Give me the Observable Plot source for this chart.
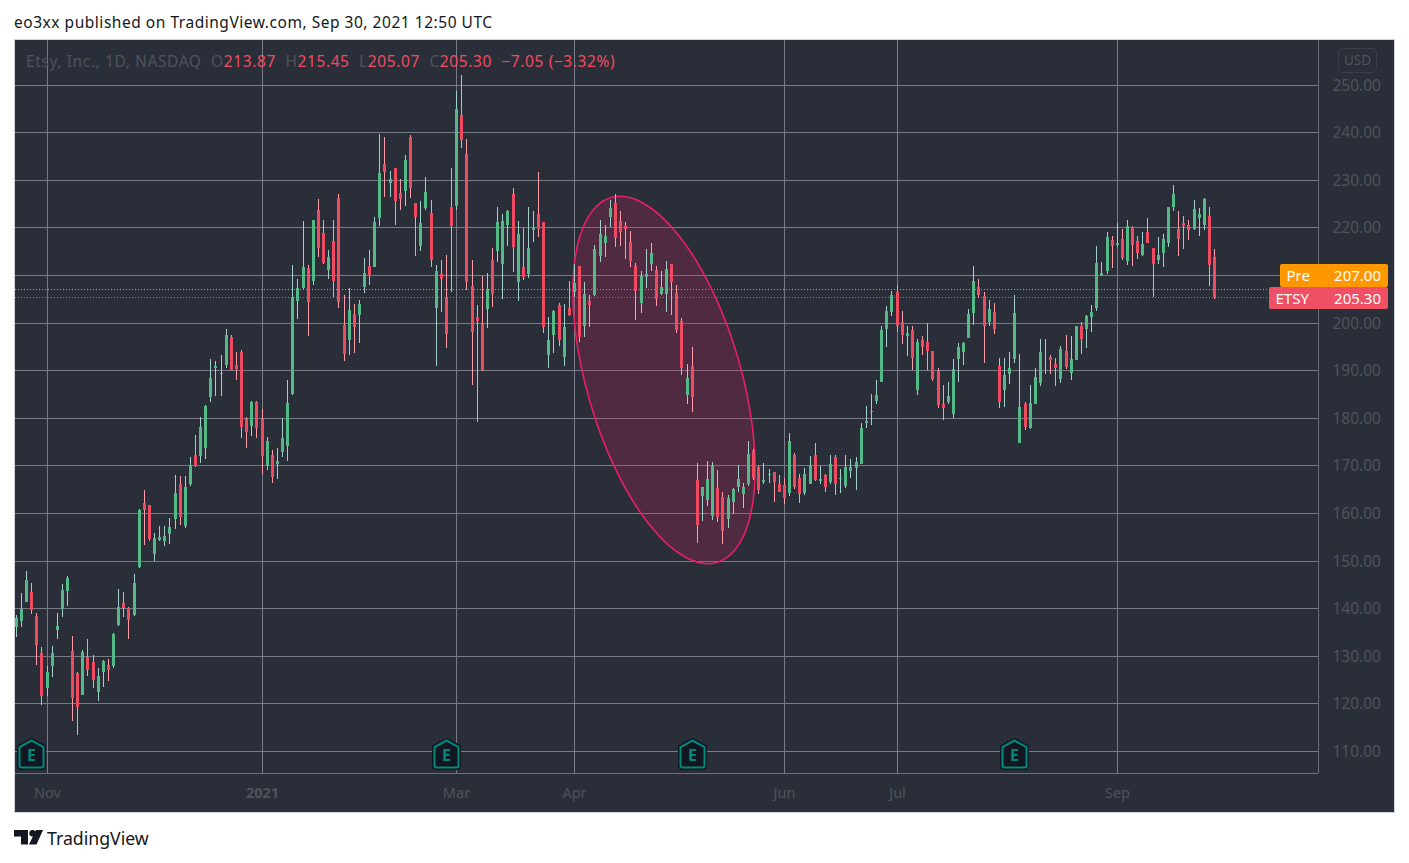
<!DOCTYPE html>
<html>
<head>
<meta charset="utf-8">
<script src="https://cdn.jsdelivr.net/npm/d3@7"></script>
<script src="https://cdn.jsdelivr.net/npm/@observablehq/plot@0.6"></script>
<style>
  html, body { margin: 0; padding: 0; background: #fff; width: 1409px; height: 863px; overflow: hidden; }
  body { position: relative; font-family: "Noto Sans", sans-serif; }
  #title { position: absolute; left: 14px; top: 11px; font-size: 15.5px; line-height: 22px; color: #131722; white-space: nowrap; letter-spacing: 0.53px; }
  #chart { position: absolute; left: 14px; top: 39px; width: 1381px; height: 774px; }
  #chart svg { display: block; outline: 1px solid #d1d4dc; outline-offset: -1px; }
  #legend { position: absolute; left: 26px; top: 50px; font-size: 15.5px; line-height: 22px; white-space: nowrap; color: #50535b; letter-spacing: 0.6px; }
  #legend b { font-weight: 400; color: #f04c60; }
  #legend span { margin-left: 9.5px; }
  #usd { position: absolute; left: 1338px; top: 48px; width: 37px; height: 23px; border: 1px solid #3c3f4a; border-radius: 5px; text-align: center; font-size: 13.5px; line-height: 23px; color: #50535b; }
  .tag { position: absolute; height: 22.5px; line-height: 22.5px; border-radius: 2px; color: #fff; font-size: 15px; box-sizing: border-box; padding: 0 7px; display: flex; justify-content: space-between; right: 21px; }
  #tagPre { top: 264px; width: 108.5px; background: #ff9800; }
  #tagEtsy { top: 286.5px; width: 119.5px; background: #ef5064; }
  #foot { position: absolute; left: 47px; top: 826px; font-size: 17.7px; line-height: 24px; color: #131722; }
  #logo { position: absolute; left: 14px; top: 830px; }
</style>
</head>
<body>
<div id="title">eo3xx published on TradingView.com, Sep 30, 2021 12:50 UTC</div>
<div id="chart"></div>
<div id="legend">Etsy, Inc., 1D, NASDAQ<span>O<b>213.87</b></span><span>H<b>215.45</b></span><span>L<b>205.07</b></span><span>C<b>205.30</b></span><span><b>−7.05 (−3.32%)</b></span></div>
<div id="usd">USD</div>
<div class="tag" id="tagPre"><span>Pre</span><span>207.00</span></div>
<div class="tag" id="tagEtsy"><span>ETSY</span><span>205.30</span></div>
<svg id="logo" width="29" height="15" viewBox="0 0 29 15"><path fill="#131722" d="M0 0H14V14.5H7V6.5H0Z"/><circle fill="#131722" cx="18.5" cy="3.2" r="3.2"/><path fill="#131722" d="M22 0H29L22.5 14.5H15Z"/></svg>
<div id="foot">TradingView</div>
<script>
const open = [
136.0,137.3,141.3,143.4,138.4,130.6,123.2,127.9,135.4,139.8,
143.6,131.0,126.4,121.8,129.8,128.7,122.4,126.6,128.1,127.9,
136.5,141.1,140.0,138.6,148.6,162.1,161.7,151.4,154.3,154.1,
155.6,158.7,166.1,157.3,166.0,172.3,171.9,173.6,184.3,190.4,
189.2,191.0,196.9,191.2,193.8,179.7,178.2,183.3,179.7,170.0,
172.1,170.3,172.8,174.0,185.0,204.5,207.2,211.4,208.7,223.6,
218.8,211.0,217.1,226.1,199.5,196.3,201.8,201.6,207.4,211.8,
211.6,221.9,233.3,229.3,232.4,227.2,227.6,239.1,225.1,216.1,
224.0,223.0,203.0,210.2,205.1,224.2,224.5,243.6,235.4,207.6,
201.1,199.7,202.8,213.1,215.0,212.3,220.5,227.0,208.5,211.6,
210.2,219.4,222.8,221.1,193.2,197.4,203.7,192.7,203.0,206.4,
211.9,199.3,204.5,205.8,214.0,216.7,222.2,225.1,221.3,220.3,
216.9,211.9,204.1,209.6,212.3,211.0,206.0,206.0,212.3,206.2,
200.3,184.8,190.9,166.9,163.6,162.7,159.4,165.3,163.4,158.7,
162.3,165.5,164.0,166.1,173.0,169.7,166.5,168.0,168.6,166.1,
165.9,164.3,172.1,167.4,164.3,166.2,172.3,166.8,167.9,166.6,
171.8,167.2,165.7,168.9,169.5,170.4,179.0,181.3,183.6,187.6,
198.7,202.3,206.5,200.2,197.3,198.5,185.9,196.4,196.0,194.1,
189.9,183.0,183.4,180.9,192.4,193.9,196.8,202.1,207.5,205.7,
200.2,202.3,190.8,185.9,189.3,192.4,174.8,183.0,177.8,183.0,
187.4,193.1,192.7,191.4,188.1,194.0,189.5,192.1,199.4,198.6,
201.1,203.0,209.9,210.8,217.3,216.4,217.5,212.9,220.1,217.1,
214.3,219.1,215.6,213.1,214.7,216.8,224.2,219.6,221.0,220.6,
219.6,221.9,220.6,222.5,213.87];
const high = [
138.6,143.2,147.8,145.3,139.0,131.8,127.9,132.1,139.0,145.1,
146.8,134.2,126.6,131.2,133.5,130.2,127.4,129.1,129.3,134.8,
144.0,143.4,140.2,147.2,160.8,164.8,161.7,155.8,157.3,157.3,
158.9,168.0,167.8,167.8,171.7,176.5,180.1,182.8,192.3,191.9,
193.1,198.6,197.5,193.8,194.2,180.1,183.5,183.5,181.8,175.9,
173.2,173.6,179.9,187.9,212.1,209.1,221.3,212.1,221.5,225.9,
221.5,215.2,221.5,227.0,205.8,207.2,203.9,204.7,213.5,215.2,
222.1,239.6,239.1,231.8,232.4,230.1,235.2,239.4,225.1,225.5,
230.5,225.7,212.1,213.1,214.2,232.4,248.6,252.0,238.5,213.1,
203.7,209.7,210.4,215.6,224.2,222.8,223.6,228.2,221.3,219.8,
224.2,223.4,231.6,221.1,201.1,202.6,204.1,203.9,208.7,212.3,
211.9,208.5,205.8,216.3,221.5,220.5,225.7,227.0,223.4,221.1,
219.2,212.5,210.8,215.5,216.7,211.9,210.8,212.9,212.3,207.9,
201.0,191.3,194.9,170.5,165.5,170.9,170.7,169.0,164.4,163.8,
165.3,170.1,166.3,175.1,173.4,169.9,170.5,169.2,168.6,167.9,
167.4,176.9,172.7,168.3,169.5,171.9,174.8,169.9,168.3,172.2,
172.1,169.3,172.2,171.4,171.8,179.0,182.4,185.1,188.0,199.2,
203.6,206.7,208.0,202.5,199.2,199.2,196.6,197.1,200.0,194.1,
190.5,186.8,187.6,192.4,195.8,196.0,202.9,212.0,209.2,206.5,
204.8,204.2,192.6,192.6,193.9,205.9,193.5,183.4,186.8,190.4,
196.5,196.5,193.1,192.5,195.0,197.5,197.1,199.4,200.2,201.7,
203.8,216.0,212.8,219.1,218.1,221.0,219.6,221.5,220.2,218.1,
219.1,221.9,215.6,217.9,218.7,224.4,229.0,223.4,222.5,221.5,
225.7,224.0,226.1,224.2,215.45];
const low = [
133.9,136.0,141.3,138.8,128.1,119.7,121.6,125.6,133.5,138.1,
140.5,116.3,113.4,121.8,125.8,123.2,120.5,123.4,124.7,127.4,
136.3,138.1,133.5,138.4,148.4,153.3,154.1,149.9,154.1,153.1,
153.5,156.6,157.5,156.8,165.6,169.6,170.5,171.3,183.3,184.5,
184.5,190.4,190.1,187.9,175.7,173.6,176.1,175.7,168.1,169.0,
166.3,167.1,171.7,170.9,184.8,200.7,207.0,197.1,207.9,213.7,
212.3,209.1,205.3,203.0,191.9,193.1,193.6,195.7,206.2,207.9,
211.6,220.2,226.3,226.5,220.5,223.6,224.5,226.1,213.9,215.0,
223.6,211.6,190.8,202.2,194.6,206.4,223.6,236.6,206.8,186.9,
179.1,189.8,198.8,203.2,212.7,204.9,216.1,210.6,204.5,208.9,
209.3,216.9,217.9,197.8,190.4,193.6,195.0,190.8,201.3,205.3,
195.9,197.0,199.1,205.6,212.7,213.8,220.1,215.9,216.1,213.3,
211.7,200.5,202.0,207.3,210.8,203.5,205.8,202.2,201.6,197.8,
189.0,182.9,181.2,153.7,158.3,161.5,158.5,158.1,153.5,156.9,
159.8,164.4,161.1,165.7,167.0,164.0,166.1,166.3,162.3,164.4,
161.8,163.5,165.1,162.2,163.7,166.2,166.8,166.0,164.5,166.0,
163.7,164.3,165.3,167.4,164.9,170.4,177.9,178.6,183.0,187.6,
194.9,201.3,198.1,195.6,192.9,190.1,184.9,193.3,190.1,187.8,
182.1,179.6,183.0,180.0,187.6,191.0,196.8,199.6,205.2,191.6,
199.2,197.7,182.1,182.3,187.2,191.6,174.8,177.5,177.6,183.0,
186.6,189.3,189.3,186.6,187.4,190.2,187.9,192.1,193.5,194.6,
198.0,202.4,209.9,210.3,211.4,215.8,213.1,212.2,212.0,213.3,
213.9,216.8,205.3,212.4,211.6,215.8,223.4,213.9,215.4,217.3,
219.4,218.3,219.4,207.6,205.07];
const close = [
137.9,139.8,145.9,139.6,132.3,121.6,126.6,130.6,136.3,143.8,
146.3,121.1,119.2,130.8,127.0,124.9,125.8,128.9,127.0,134.6,
140.2,140.0,137.5,145.3,160.6,160.6,154.5,154.7,154.9,155.2,
157.1,164.2,159.2,165.5,170.0,169.8,178.0,182.4,188.3,190.8,
189.4,197.5,190.1,190.2,178.0,177.0,183.3,177.8,171.9,175.1,
167.5,170.9,175.7,183.1,205.3,207.2,211.6,204.3,221.5,215.6,
212.5,213.7,208.7,204.3,193.4,202.6,199.0,203.9,210.4,209.9,
221.1,231.4,231.6,230.1,225.5,225.9,234.1,228.2,222.3,220.9,
227.4,213.1,210.8,209.1,197.6,220.2,244.8,238.3,208.5,198.0,
200.3,190.0,207.0,206.0,221.1,221.3,223.4,215.8,218.6,209.5,
215.6,219.8,219.6,199.0,196.3,202.4,196.3,199.0,201.6,208.3,
197.0,206.0,203.7,215.5,218.6,218.2,224.1,217.8,219.0,219.6,
212.9,206.6,209.8,210.2,214.6,205.0,207.5,211.2,208.5,198.4,
190.5,188.4,184.4,157.5,165.5,167.1,169.9,159.2,156.2,163.2,
165.0,167.1,165.5,172.4,167.4,164.8,167.0,168.2,166.5,164.4,
163.2,175.2,165.5,164.1,168.3,170.2,167.0,167.2,165.5,170.4,
166.0,167.4,169.7,169.7,170.8,177.9,179.4,181.5,184.9,198.5,
202.5,205.9,199.4,197.5,197.9,192.6,196.0,194.9,194.1,188.2,
182.8,182.1,184.5,190.3,194.9,195.8,201.9,208.8,205.9,199.4,
202.9,198.7,183.4,188.9,190.5,202.1,182.3,178.1,183.2,188.5,
193.9,193.3,192.1,190.4,194.4,190.6,192.3,199.4,196.5,201.5,
202.3,212.6,210.5,217.9,216.2,216.8,213.5,220.4,216.4,214.7,
216.6,216.8,212.4,214.3,217.5,224.2,227.1,217.5,220.4,219.4,
223.8,222.9,225.9,212.2,205.30];

const monthTicks = [6, 48, 86, 109, 150, 172, 215];
const monthLabels = ["Nov", "2021", "Mar", "Apr", "Jun", "Jul", "Sep"];
const priceTicks = [110,120,130,140,150,160,170,180,190,200,210,220,230,240,250];
const earningsBars = [3, 84, 132, 195];
const badgePrice = 109.3;
const prePrice = 207.00;
const lastPrice = 205.30;
const ellipseCentre = [126.6, 188.0];

const bars = open.map((o, i) => ({i, o, h: high[i], l: low[i], c: close[i], up: close[i] >= o}));

const GRID = "#787b86", MUTED = "#50535b";
const yDomain = [105.39, 259.38];
const xDomain = [-0.154, 254.3];
const badge = {
  draw(c) {
    c.moveTo(0, -14); c.lineTo(12, -7.5); c.lineTo(12, 11);
    c.quadraticCurveTo(12, 13, 10, 13); c.lineTo(-10, 13);
    c.quadraticCurveTo(-12, 13, -12, 11); c.lineTo(-12, -7.5); c.closePath();
  }
};
// highlighted rotated ellipse, centred through the chart's own scales
const ellipseMark = (index, scales) => d3.create("svg:ellipse")
  .attr("rx", 77.2).attr("ry", 190)
  .attr("transform", `translate(${scales.x(ellipseCentre[0])},${scales.y(ellipseCentre[1])}) rotate(-16.2)`)
  .attr("fill", "#e91e63").attr("fill-opacity", 0.2)
  .attr("stroke", "#e91e63").attr("stroke-width", 1.6)
  .node();

const chart = Plot.plot({
  width: 1381, height: 774,
  marginLeft: 1, marginRight: 77, marginTop: 1, marginBottom: 40,
  style: {background: "#2a2e39", fontFamily: "'Noto Sans', sans-serif", overflow: "visible"},
  x: {domain: xDomain, round: true},
  y: {domain: yDomain, round: true},
  marks: [
    Plot.gridY(priceTicks, {stroke: GRID, strokeOpacity: 1}),
    Plot.gridX(monthTicks, {stroke: GRID, strokeOpacity: 1}),
    Plot.axisY(priceTicks, {anchor: "right", label: null, tickSize: 0, tickPadding: 14, dy: 1, tickFormat: d => d.toFixed(2), fontSize: 15.5, fill: MUTED}),
    Plot.axisX(monthTicks, {anchor: "bottom", label: null, tickSize: 0, tickPadding: 14, tickFormat: d => monthLabels[monthTicks.indexOf(d)], fontSize: 14.5, fill: MUTED}),
    Plot.ruleX([xDomain[1]], {stroke: GRID, strokeOpacity: 0.85}),
    Plot.ruleY([yDomain[0]], {stroke: GRID, strokeOpacity: 0.85}),
    Plot.ruleY([prePrice], {stroke: "#ff9800", strokeDasharray: "1 2"}),
    Plot.ruleY([lastPrice], {stroke: "#ef5064", strokeDasharray: "1 2"}),
    ellipseMark,
    Plot.ruleX(bars, {x: "i", y1: "l", y2: "h", stroke: d => d.up ? "#a3d0ca" : "#ff9daa", strokeWidth: 1}),
    Plot.ruleX(bars, {x: "i", y1: "o", y2: "c", stroke: d => d.up ? "#53b987" : "#ef4a5f", strokeWidth: 3}),
    Plot.dot(earningsBars, {x: d => d, y: () => badgePrice, r: 5, symbol: badge, fill: "#131722", stroke: "#131722", strokeWidth: 5}),
    Plot.dot(earningsBars, {x: d => d, y: () => badgePrice, r: 5, symbol: badge, fill: "#131722", stroke: "#00897b", strokeWidth: 2}),
    Plot.text(earningsBars, {x: d => d, y: () => badgePrice, text: () => "E", fill: "#00897b", fontSize: 16, fontWeight: 700, dy: 1})
  ]
});
d3.select(chart).selectAll("text").filter(function () { return this.textContent === "2021"; }).style("font-weight", 700);
document.getElementById("chart").appendChild(chart);
</script>
</body>
</html>
